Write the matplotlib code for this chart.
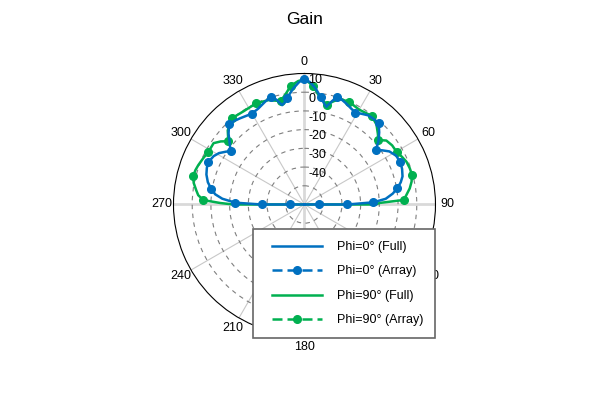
import numpy as np
import matplotlib
matplotlib.use('Agg')
import matplotlib.pyplot as plt
from matplotlib.lines import Line2D
from matplotlib.legend_handler import HandlerLine2D
from matplotlib.transforms import offset_copy

plt.rcParams['font.family'] = ['Liberation Sans', 'DejaVu Sans']
font_size = 9

#%% Data (theta in degrees, gain in dB)
blue_full_theta = [-90, -90, -88.5, -86, -83.5, -80.6, -77, -73, -69.5, -66.4, -62, -59, -56, -54.2,
                   -52, -50, -47, -43.2, -40, -36.8, -33, -30.1, -25.7, -21, -17.3, -15, -12.7, -11,
                   -9.3, -5.5, -2.5, 0, 2.5, 5.5, 8.7, 11, 12.6, 14.5, 16.9, 19.5, 22.4, 26, 29, 32,
                   35.4, 39, 42.4, 46, 49.5, 52.7, 55, 58, 62, 66.3, 70, 74, 77, 80.2, 83, 86, 88.2,
                   90, 90]
blue_full_gain = [-50, -27, -13, -6, -2, 0.5, 3, 4.8, 5.7, 6.2, 5, 3.3, 0.5, -1.4,
                  0.5, 2.3, 5.5, 8.8, 8.3, 7.5, 6.6, 6.1, 6.9, 8.8, 10.3, 8, 4.4, 5.5,
                  7.7, 12.3, 15.5, 17, 15.5, 12.3, 7.9, 5, 3.5, 6.5, 10.3, 9.5, 8.4, 7, 6.1, 7.2,
                  8.5, 8.8, 8.8, 5.5, 2, -2.0, 0.5, 3.5, 5.5, 6.0, 5.5, 4.5, 2.8, 0.3, -2.5, -6.5, -13.2,
                  -27, -50]

blue_arr_theta = [-90, -90, -88.5, -80.6, -66.4, -54.2, -43.2, -30.1, -17.3, -9.3, 0,
                  8.7, 16.9, 29, 42.4, 52.7, 66.3, 80.2, 88.2, 90, 90]
blue_arr_gain = [-42.3, -27.4, -13, 0.5, 6.2, -1.4, 8.8, 6.1, 10.3, 7.7, 17,
                 7.9, 10.3, 6.1, 8.8, -2.0, 6.0, 0.3, -13.2, -27.5, -42.4]

green_full_theta = [-90, -90, -89, -87.5, -85, -82.4, -79, -75.7, -72.5, -69.6, -65.5, -61.7, -58, -56,
                    -53, -50.3, -46, -40, -33, -25.6, -19, -13, -10, -6.6, -3, 0, 4.2, 8, 12.5,
                    16, 19, 23.5, 30, 37.1, 42, 46, 48.9, 52, 56, 60.2, 64, 67.3, 71, 74.5, 78,
                    81.3, 85, 87.4, 88.8, 90, 90]
green_full_gain = [-50, -12, -5, 4.1, 7, 8.4, 10.3, 11.4, 11.1, 10.5, 9.5, 8.6, 8.5, 8.6,
                   6, 2.9, 7, 10.2, 9.5, 9.9, 9, 6.7, 9.5, 13.8, 16, 17, 13.6, 8, 4.7,
                   7.5, 9.5, 9.8, 8.5, 9.4, 7.5, 4.5, 2.4, 5.5, 6.5, 6.7, 8, 9.1, 9.5, 9.6, 8.5,
                   6.9, 4.5, 3.0, -9.7, -12, -50]

green_arr_theta = [-87.5, -75.7, -61.7, -50.3, -40, -25.6, -13, -6.6, 4.2, 12.5, 23.5,
                   37.1, 48.9, 60.2, 74.5, 87.4]
green_arr_gain = [4.1, 11.4, 8.6, 2.9, 10.2, 9.9, 6.7, 13.8, 13.6, 4.7, 9.8,
                  9.4, 2.4, 6.7, 9.6, 3.0]

angle_ticks = list(range(0, 360, 30))
r_ticks = [-40, -30, -20, -10, 0, 10]
labels = ['Phi=0° (Full)', 'Phi=0° (Array)', 'Phi=90° (Full)', 'Phi=90° (Array)']

blue = '#0070c0'
green = '#00b050'

#%% Plot
fig = plt.figure(figsize=(6.1, 4.05), dpi=100)
ax = fig.add_axes([0.2844, 0.1716, 0.4295, 0.647], projection='polar')
ax.set_theta_zero_location('N')
ax.set_theta_direction(-1)
ax.set_rlim(-50, 20)

ax.set_thetagrids(angle_ticks, [str(a) for a in angle_ticks])
ax.tick_params(axis='x', labelsize=font_size, pad=-2)
ax.set_rticks(r_ticks)
ax.set_yticklabels([])
ax.xaxis.grid(True, color='#c8c8c8', linewidth=0.8, linestyle='-')
ax.yaxis.grid(True, color='#7f7f7f', linewidth=0.8, linestyle=(0, (4, 4)))
for i, gl in enumerate(ax.xaxis.get_gridlines()):
    if i % 3 == 0:
        gl.set_linewidth(2.0)
        gl.set_color('#d9d9d9')
ax.spines['polar'].set_color('black')
ax.spines['polar'].set_linewidth(0.8)

lw = 1.8
ms = 5.5
dash = (0, (4, 2))
ax.plot(np.deg2rad(green_full_theta), green_full_gain, color=green, lw=lw)
ax.plot(np.deg2rad(green_arr_theta), green_arr_gain, color=green, linestyle='none',
        marker='o', ms=ms)
ax.plot(np.deg2rad(blue_full_theta), blue_full_gain, color=blue, lw=lw)
ax.plot(np.deg2rad(blue_arr_theta), blue_arr_gain, color=blue, linestyle='none',
        marker='o', ms=ms)

# radial labels above each circle, right of the 0 line
trans = offset_copy(ax.transData, fig=fig, x=4, y=12, units='dots')
for r in r_ticks:
    ax.text(0, r, str(r), transform=trans, ha='left', va='center',
            fontsize=font_size, zorder=10)

fig.text(0.5, 1 - 20 / 405, 'Gain', ha='center', va='center', fontsize=12.5)

handles = [Line2D([], [], color=blue, lw=lw),
           Line2D([], [], color=blue, lw=lw, linestyle=dash, marker='o', ms=ms),
           Line2D([], [], color=green, lw=lw),
           Line2D([], [], color=green, lw=lw, linestyle=dash, marker='o', ms=ms)]
leg = ax.legend(handles, labels, loc='upper left',
                bbox_to_anchor=(253 / 610, 1 - 229 / 405), bbox_transform=fig.transFigure,
                fontsize=font_size, fancybox=False, framealpha=1, edgecolor='#666666',
                borderpad=0.95, borderaxespad=0, labelspacing=1.0, handlelength=4.56,
                handletextpad=1.2, numpoints=1,
                handler_map={Line2D: HandlerLine2D(xpad=0.56)})
leg.get_frame().set_linewidth(1.2)
leg.set_zorder(20)

plt.savefig('out.png', dpi=100)
plt.close(fig)
